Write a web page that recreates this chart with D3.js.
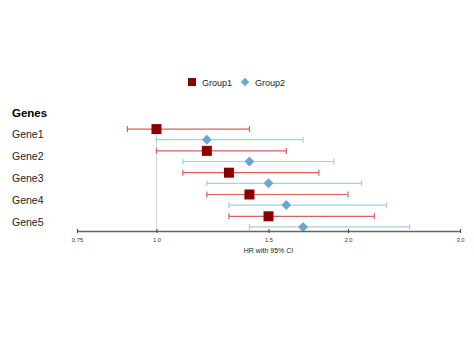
<!DOCTYPE html>
<html>
<head>
<meta charset="utf-8">
<script src="https://cdn.jsdelivr.net/npm/d3@7"></script>
<style>
  html, body { margin: 0; padding: 0; background: #fff; }
  svg { display: block; font-family: "Liberation Sans", Arial, sans-serif; }
</style>
</head>
<body>
<svg id="chart" width="474" height="338"></svg>
<script>
// Hazard ratios with 95% confidence intervals, two groups per gene
const genes = ["Gene1", "Gene2", "Gene3", "Gene4", "Gene5"];
const groups = ["Group1", "Group2"];
const group1HR = [1.0, 1.2, 1.3, 1.4, 1.5];
const group1Low = [0.9, 1.0, 1.1, 1.2, 1.3];
const group1High = [1.4, 1.6, 1.8, 2.0, 2.2];
const group2HR = [1.2, 1.4, 1.5, 1.6, 1.7];
const group2Low = [1.0, 1.1, 1.2, 1.3, 1.4];
const group2High = [1.7, 1.9, 2.1, 2.3, 2.5];
const tickValues = [0.75, 1.0, 1.5, 2.0, 3.0];
const tickLabels = ["0.75", "1.0", "1.5", "2.0", "3.0"];

const svg = d3.select("#chart");

const x = d3.scaleLog().domain([0.75, 3.0]).range([77, 460]);
const yRow = d3.scaleBand().domain(genes).range([123.5, 232.5]).paddingInner(0).paddingOuter(0);
const yGroup = d3.scaleBand().domain(groups).range([0, yRow.bandwidth()]).padding(0.05);

// Group2 uses a square turned 45 degrees
const styles = {
  Group1: { mark: "#8b0000", line: "#d9605e", size: 100, rotate: 0 },
  Group2: { mark: "#6aa6d2", line: "#a9cde9", size: 50, rotate: 45 }
};

const series = [
  { name: "Group1", hr: group1HR, lo: group1Low, hi: group1High },
  { name: "Group2", hr: group2HR, lo: group2Low, hi: group2High }
];

// Reference line at HR = 1
svg.append("line")
  .attr("x1", x(1)).attr("x2", x(1))
  .attr("y1", 124).attr("y2", 231)
  .attr("stroke", "#d9d9d9").attr("stroke-width", 1.2);

// Header and row labels
svg.append("text").attr("x", 12).attr("y", 117)
  .attr("font-size", 11.5).attr("font-weight", "bold").attr("fill", "#000")
  .text("Genes");

svg.selectAll("text.gene").data(genes).join("text")
  .attr("class", "gene")
  .attr("x", 12)
  .attr("y", d => yRow(d) + yRow.bandwidth() / 2 + 4)
  .attr("font-size", 10.5).attr("fill", "#222")
  .text(d => d);

// Intervals and point estimates
series.forEach(s => {
  const st = styles[s.name];
  const rows = genes.map((g, i) => ({ g, hr: s.hr[i], lo: s.lo[i], hi: s.hi[i] }));
  const cy = d => yRow(d.g) + yGroup(s.name) + yGroup.bandwidth() / 2;
  const grp = svg.append("g");

  grp.selectAll("line.ci").data(rows).join("line")
    .attr("x1", d => x(d.lo)).attr("x2", d => x(d.hi))
    .attr("y1", cy).attr("y2", cy)
    .attr("stroke", st.line).attr("stroke-width", 1.2);

  ["lo", "hi"].forEach(k => {
    grp.selectAll("line.cap-" + k).data(rows).join("line")
      .attr("x1", d => x(d[k])).attr("x2", d => x(d[k]))
      .attr("y1", d => cy(d) - 3).attr("y2", d => cy(d) + 3)
      .attr("stroke", st.line).attr("stroke-width", 1.2);
  });

  grp.selectAll("path.pt").data(rows).join("path")
    .attr("transform", d => `translate(${x(d.hr)},${cy(d)}) rotate(${st.rotate})`)
    .attr("d", d3.symbol().type(d3.symbolSquare).size(st.size))
    .attr("fill", st.mark);
});

// Axis
const axisG = svg.append("g").attr("transform", "translate(0,231)");
axisG.call(d3.axisBottom(x).tickValues(tickValues)
  .tickFormat((d, i) => tickLabels[i]).tickSizeInner(3).tickSizeOuter(0));
axisG.select(".domain").attr("stroke", "#666").attr("stroke-width", 1.6);
axisG.selectAll(".tick line").attr("stroke", "#444").attr("y1", -2).attr("y2", 2);
axisG.selectAll(".tick text").attr("y", 7).attr("font-size", 5.8).attr("fill", "#333")
  .attr("font-family", "Liberation Sans, Arial, sans-serif");

svg.append("text").attr("x", x(1.5)).attr("y", 253)
  .attr("text-anchor", "middle").attr("font-size", 7).attr("fill", "#222")
  .text("HR with 95% CI");

// Legend
const legend = svg.append("g").attr("transform", "translate(192,82)");
const legendItems = [{ name: "Group1", dx: 0, size: 64 }, { name: "Group2", dx: 53, size: 36 }];
legendItems.forEach(it => {
  const st = styles[it.name];
  legend.append("path")
    .attr("transform", `translate(${it.dx},0) rotate(${st.rotate})`)
    .attr("d", d3.symbol().type(d3.symbolSquare).size(it.size))
    .attr("fill", st.mark);
  legend.append("text").attr("x", it.dx + 10).attr("y", 3.5)
    .attr("font-size", 9).attr("fill", "#222").text(it.name);
});
</script>
</body>
</html>
